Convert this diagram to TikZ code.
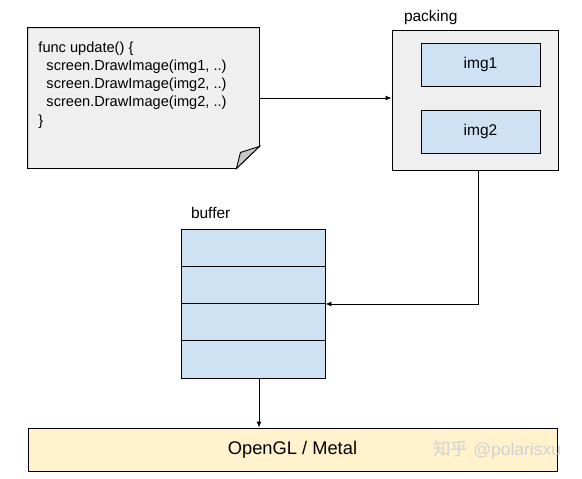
\documentclass[tikz,border=0pt]{standalone}
\usepackage{fontspec}
\setmainfont{Liberation Sans}
\newfontfamily\cjk{Noto Sans CJK SC}
\usepackage{xcolor}
\usepackage{tikz}
\usetikzlibrary{arrows.meta, positioning, calc}
\definecolor{note_gray}{RGB}{239, 239, 239}
\definecolor{fold_gray}{RGB}{200, 200, 200}
\definecolor{img_blue}{RGB}{207, 226, 243}
\definecolor{gl_yellow}{RGB}{255, 242, 204}

\begin{document}
\begin{tikzpicture}[x=1pt, y=-1pt, line width=0.9pt,
        note/.style={minimum width=231pt, minimum height=140pt, inner sep=0pt},
        grp/.style={draw, fill=note_gray, minimum width=166pt, minimum height=140pt, inner sep=0pt},
        img/.style={draw, fill=img_blue, minimum width=119pt, minimum height=43pt,
                    inner sep=0pt, font=\fontsize{15.5}{18}\selectfont},
        slot/.style={draw, fill=img_blue, minimum width=144pt, minimum height=37.25pt, inner sep=0pt},
        lbl/.style={anchor=base west, inner sep=0pt, font=\fontsize{15.5}{18}\selectfont},
        arr/.style={-{Latex[length=6pt, width=5pt]}}]
        \useasboundingbox (0,0) rectangle (582,479);
        % source note with folded corner
        \node[note] (code) at (143.5,98) {};
        \draw[fill=note_gray] (code.north west) -- (code.north east)
          -- ([yshift=22pt]code.south east) -- ([xshift=-23pt]code.south east)
          -- (code.south west) -- cycle;
        \draw[fill=fold_gray] ([xshift=-23pt]code.south east) -- ([yshift=22pt]code.south east)
          -- ([xshift=-19pt, yshift=16pt]code.south east) -- cycle;
        \node[anchor=north west, align=left, inner sep=0pt, font=\fontsize{14.6}{18.3}\selectfont]
          (src) at (38,41) {func update() \{\\
          \hspace*{8pt}screen.DrawImage(img1, ..)\\
          \hspace*{8pt}screen.DrawImage(img2, ..)\\
          \hspace*{8pt}screen.DrawImage(img2, ..)\\
          \}};
        % packing
        \node[grp] (packing) at (475,100) {};
        \node[img] (img1) at (480.5,64.5) {img1};
        \node[img] (img2) at (480.5,131.5) {img2};
        \node[lbl] (packlbl) at ([xshift=12pt, yshift=8pt]packing.north west) {packing};
        % buffer
        \foreach \y [count=\i] in {247.6, 284.9, 322.1, 359.4}
          \node[slot] (b\i) at (253,\y) {};
        \node[lbl] (buflbl) at ([xshift=10pt, yshift=10pt]b1.north west) {buffer};
        % backend
        \node[draw, fill=gl_yellow, minimum width=529pt, minimum height=43pt, inner sep=0pt,
              font=\fontsize{18.3}{22}\selectfont] (gl) at (292.5,449.5) {OpenGL / Metal};
        \node[anchor=base west, inner sep=0pt, text=gray!35, font=\fontsize{17.5}{20}\selectfont]
          (mark) at (433,455) {{\cjk 知乎} @polarisxu};
        % connectors
        \draw[arr] (code.east) -- (code.east -| packing.west);
        \draw[arr] ([xshift=3pt]packing.south) |- (b2.south east);
        \draw[arr] ([xshift=6pt]b4.south) -- ([xshift=6pt]b4.south |- gl.north);
      \end{tikzpicture}
\end{document}
